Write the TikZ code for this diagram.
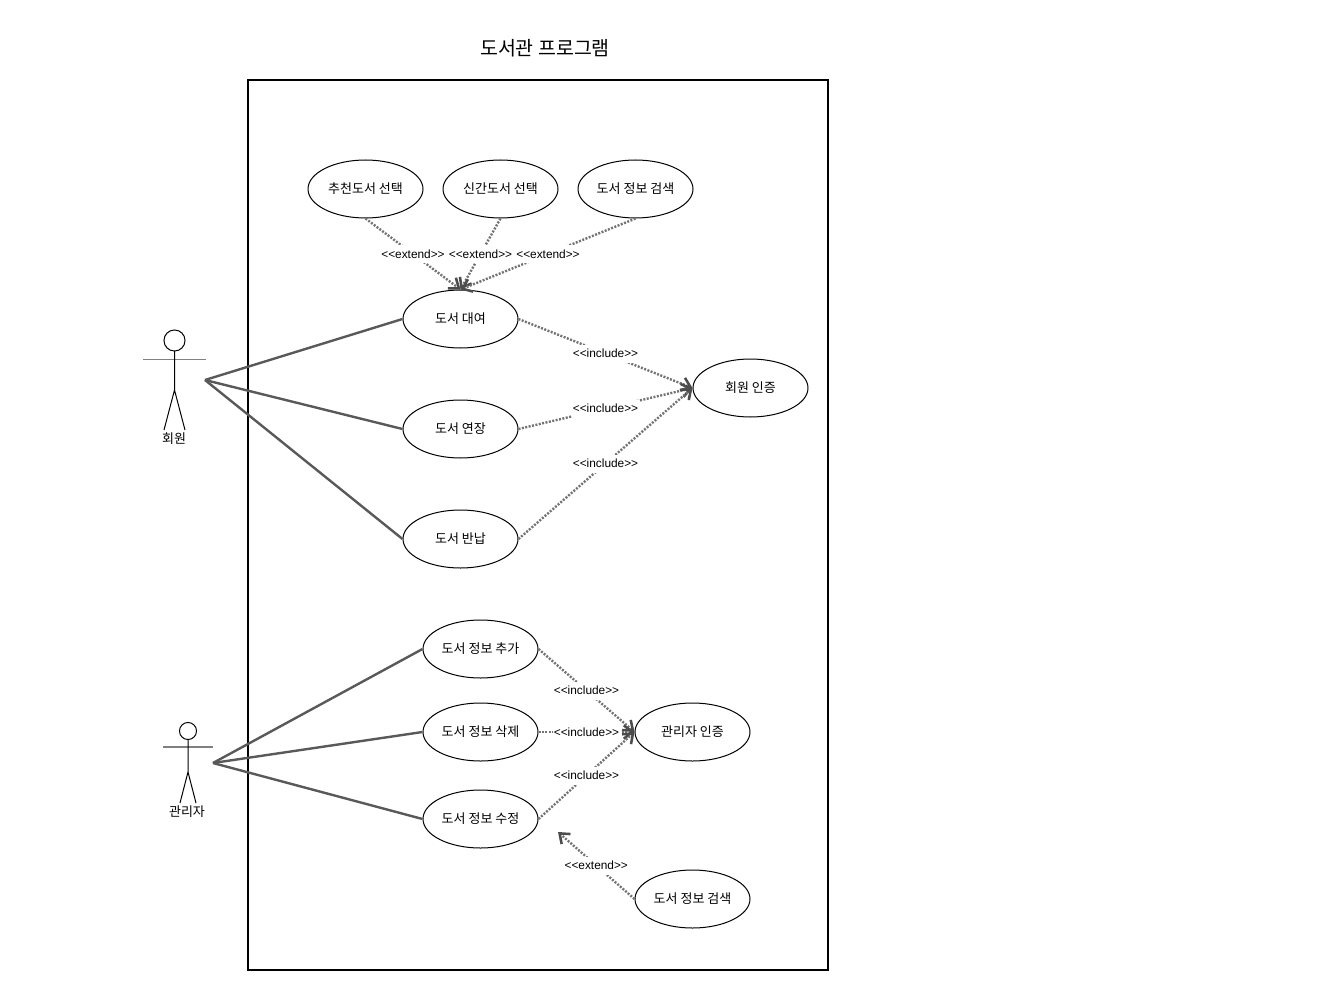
\documentclass[tikz,border=0pt]{standalone}
\usepackage{fontspec}
\setmainfont{Noto Sans CJK KR}
\newfontfamily\lblfont{Liberation Sans}
\usetikzlibrary{shapes.geometric,arrows.meta}
\tikzset{
  x=0.75pt,y=-0.75pt,
  usecase/.style={ellipse,draw=black,line width=0.75pt,fill=white,minimum width=86.25pt,minimum height=43.5pt,inner sep=0pt,font=\fontsize{9.75}{11}\selectfont,text depth=1.5pt},
  lbl/.style={fill=white,inner xsep=0.8pt,inner ysep=0pt,minimum height=13.5pt,font=\lblfont\fontsize{8.9}{10}\selectfont,text=black},
  assoc/.style={line width=1.8pt,draw=black!65},
  rel/.style={line width=1.8pt,draw=black!55,dash pattern=on 1.5pt off 1.1pt,-{Straight Barb[length=6.5pt,width=10pt,line width=1.9pt,black!70]}},
  actorline/.style={line width=0.75pt,draw=black},
  actorarm/.style={line width=1.4pt,draw=black!50},
  actorname/.style={font=\fontsize{9.75}{11}\selectfont,inner sep=0pt},
}
\begin{document}
\begin{tikzpicture}
\useasboundingbox (0,0) rectangle (1335,988);
\node[inner sep=0pt,font=\fontsize{14.6}{17}\selectfont] (title) at (545,48) {도서관 프로그램};
\node[draw=black,line width=1.5pt,minimum width=435pt,minimum height=667.5pt,inner sep=0pt] (frame) at (538,525) {};

\node[usecase] (rec) at (365.5,189) {추천도서 선택};
\node[usecase] (new) at (500.5,189) {신간도서 선택};
\node[usecase] (srch) at (635.5,189) {도서 정보 검색};
\node[usecase] (rent) at (460.5,319) {도서 대여};
\node[usecase] (ext) at (460.5,429) {도서 연장};
\node[usecase] (ret) at (460.5,539) {도서 반납};
\node[usecase] (auth) at (750.5,388) {회원 인증};
\node[usecase] (add) at (480.5,649) {도서 정보 추가};
\node[usecase] (del) at (480.5,732) {도서 정보 삭제};
\node[usecase] (mod) at (480.5,819) {도서 정보 수정};
\node[usecase] (aauth) at (692.5,732) {관리자 인증};
\node[usecase] (asrch) at (692.5,899) {도서 정보 검색};

% actor: member
\node[circle,draw=black,line width=0.75pt,minimum size=15.8pt,inner sep=0pt] (mhead) at (174.5,340.5) {};
\coordinate (mneck) at (174.5,351);
\coordinate (mhip) at (174.5,390);
\coordinate (mlarm) at (143,359.5);
\coordinate (mrarm) at (206,359.5);
\coordinate (mlfoot) at (164,430);
\coordinate (mrfoot) at (185,430);
\coordinate (mport) at (205,380);
\draw[actorarm] (mlarm) -- (mrarm);
\draw[actorline] (mneck) -- (mhip) (mlfoot) -- (mhip) -- (mrfoot);
\node[actorname] (mname) at (174,438.5) {회원};

% actor: admin
\node[circle,draw=black,line width=0.75pt,minimum size=12.8pt,inner sep=0pt] (ahead) at (188,731) {};
\coordinate (aneck) at (188,739.5);
\coordinate (ahip) at (188,772);
\coordinate (alarm) at (163,747);
\coordinate (ararm) at (213,747);
\coordinate (alfoot) at (180,803);
\coordinate (arfoot) at (196,803);
\coordinate (aport) at (213,763);
\draw[actorarm] (alarm) -- (ararm);
\draw[actorline] (aneck) -- (ahip) (alfoot) -- (ahip) -- (arfoot);
\node[actorname] (aname) at (187,811.5) {관리자};

% associations
\draw[assoc] (mport) -- (rent.west);
\draw[assoc] (mport) -- (ext.west);
\draw[assoc] (mport) -- (ret.west);
\draw[assoc] (aport) -- (add.west);
\draw[assoc] (aport) -- (del.west);
\draw[assoc] (aport) -- (mod.west);

% relations
\draw[rel] (rec.south) -- node[lbl] {<<extend>>} (rent.north);
\draw[rel] (new.south) -- node[lbl] {<<extend>>} (rent.north);
\draw[rel] (srch.south) -- node[lbl] {<<extend>>} (rent.north);
\draw[rel] (rent.east) -- node[lbl] {<<include>>} (auth.west);
\draw[rel] (ext.east) -- node[lbl] {<<include>>} (auth.west);
\draw[rel] (ret.east) -- node[lbl] {<<include>>} (auth.west);
\draw[rel] (add.east) -- node[lbl] {<<include>>} (aauth.west);
\draw[rel] (del.east) -- node[lbl] {<<include>>} (aauth.west);
\draw[rel] (mod.east) -- node[lbl] {<<include>>} (aauth.west);
\coordinate (free) at (558,832);
\draw[rel] (asrch.west) -- node[lbl] {<<extend>>} (free);
\end{tikzpicture}
\end{document}
